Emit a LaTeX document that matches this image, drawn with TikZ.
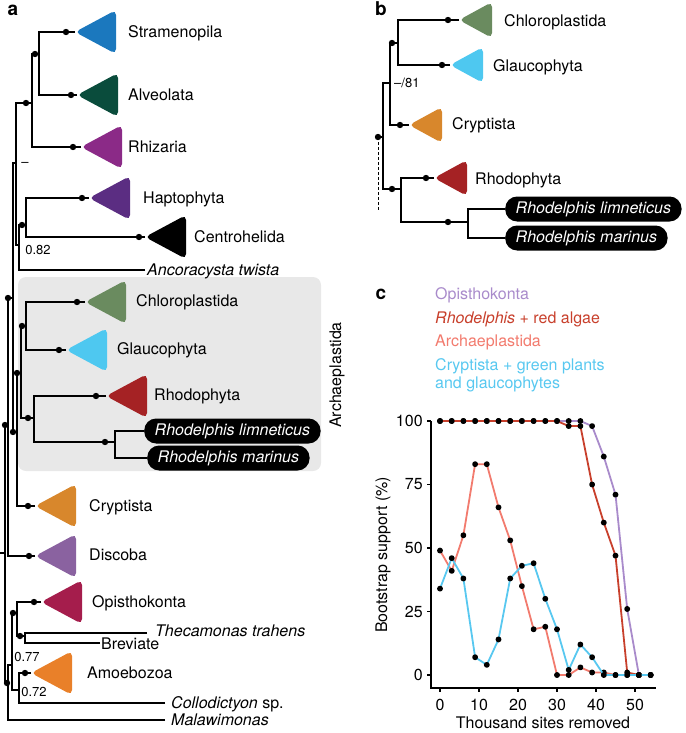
\documentclass[tikz,border=0pt]{standalone}
\usepackage{fontspec}
\setmainfont{TeX Gyre Heros}
\newcommand\labsize{\fontsize{16}{19}\selectfont}
\newcommand\supsize{\fontsize{13}{15}\selectfont}
\definecolor{stramcol}{HTML}{1B78BE}
\definecolor{alvcol}{HTML}{0A4C3C}
\definecolor{rhizcol}{HTML}{8B2A87}
\definecolor{haptcol}{HTML}{5B2D82}
\definecolor{chlcol}{HTML}{6A8B5F}
\definecolor{glacol}{HTML}{4EC8F0}
\definecolor{rhocol}{HTML}{A52224}
\definecolor{crycol}{HTML}{D8872C}
\definecolor{discol}{HTML}{8A62A0}
\definecolor{opicol}{HTML}{A51D4C}
\definecolor{amocol}{HTML}{E98029}
\definecolor{boxgray}{HTML}{E8E8E8}
\definecolor{lnopi}{HTML}{A98BCB}
\definecolor{lnrho}{HTML}{C8402C}
\definecolor{lnarc}{HTML}{F27B6E}
\definecolor{lncry}{HTML}{58C8F0}
\begin{document}
\begin{tikzpicture}[x=1pt,y=-1pt,
  br/.style={line width=1.3pt},
  clade/.style={rounded corners=5pt},
  sdot/.style={fill=black},
  lab/.style={anchor=base west,inner sep=0pt,yshift=-5.7pt,font=\labsize},
  itlab/.style={lab,font=\labsize\itshape},
  sup/.style={anchor=base,inner sep=0pt,yshift=-4.7pt,font=\supsize},
  pill/.style={anchor=west,fill=black,text=white,rounded corners=12pt,minimum height=25pt,inner xsep=10.5pt,inner ysep=0pt,font=\labsize\itshape},
  panel/.style={inner sep=0pt,font=\fontsize{19}{22}\selectfont\bfseries},
  axis/.style={line width=1.2pt},
  ticklab/.style={inner sep=0pt,font=\labsize},
  plotline/.style={line width=1.8pt,line join=round,mark=*,mark size=2pt,mark options={fill=black,draw=black}}]
\useasboundingbox (0,0) rectangle (685,733);

% panel a
\node[panel] (pa) at (13,10) {a};
\fill[boxgray,rounded corners=8pt] (18,277) rectangle (321,471);
\node[font=\labsize,rotate=90,inner sep=0pt] (archL) at (337,375) {Archaeplastida};

% tips
\coordinate (stram) at (75,32);
\coordinate (alveo) at (77,95);
\coordinate (rhiz) at (81,147);
\coordinate (hapto) at (89,198);
\coordinate (centro) at (145,237);
\coordinate (anco) at (145,270);
\coordinate (chloro) at (85,302);
\coordinate (glauco) at (66,350);
\coordinate (rhodo) at (106,396);
\node[pill] (alim) at (144,431) {Rhodelphis limneticus};
\node[pill] (amar) at (147,458) {Rhodelphis marinus};
\coordinate (crypt) at (35,506);
\coordinate (discoba) at (35,556);
\coordinate (opis) at (41,602);
\coordinate (theca) at (147,633);
\coordinate (brev) at (100,643);
\coordinate (amoeb) at (31,673);
\coordinate (collod) at (165,703);
\coordinate (malaw) at (165,720);

% inner nodes
\coordinate (n1) at (39,54);
\coordinate (n2) at (32,103);
\coordinate (n3) at (26,225);
\coordinate (n4) at (19,245);
\coordinate (n5) at (16,163);
\coordinate (n6) at (26,326);
\coordinate (n7) at (115,442);
\coordinate (n8) at (34,418);
\coordinate (n9) at (21,373);
\coordinate (n10) at (17,432);
\coordinate (n11) at (13,298);
\coordinate (n12) at (8,425);
\coordinate (n14) at (17,613);
\coordinate (n15) at (25,636);
\coordinate (n16) at (19,690);
\coordinate (n17) at (12,665);
\coordinate (n19) at (8,683);
\coordinate (rt) at (5,553);
\coordinate (rt0) at (0,553);

\draw[br] (stram) -| (n1);
\draw[br] (alveo) -| (n1);
\draw[br] (n1) -| (n2);
\draw[br] (rhiz) -| (n2);
\draw[br] (hapto) -| (n3);
\draw[br] (centro) -| (n3);
\draw[br] (n3) -| (n4);
\draw[br] (anco) -| (n4);
\draw[br] (n2) -| (n5);
\draw[br] (n4) -| (n5);
\draw[br] (chloro) -| (n6);
\draw[br] (glauco) -| (n6);
\draw[br] (alim) -| (n7);
\draw[br] (amar) -| (n7);
\draw[br] (rhodo) -| (n8);
\draw[br] (n7) -| (n8);
\draw[br] (n6) -| (n9);
\draw[br] (n8) -| (n9);
\draw[br] (n9) -| (n10);
\draw[br] (crypt) -| (n10);
\draw[br] (n5) -| (n11);
\draw[br] (n10) -| (n11);
\draw[br] (n11) -| (n12);
\draw[br] (discoba) -| (n12);
\draw[br] (opis) -| (n14);
\draw[br] (n15) -| (n14);
\draw[br] (theca) -| (n15);
\draw[br] (brev) -| (n15);
\draw[br] (amoeb) -| (n16);
\draw[br] (collod) -| (n16);
\draw[br] (n14) -| (n17);
\draw[br] (n16) -| (n17);
\draw[br] (n17) -| (n19);
\draw[br] (malaw) -| (n19);
\draw[br] (n12) -| (rt);
\draw[br] (n19) -| (rt);
\draw[br] (rt0) -- (rt);

% collapsed clades
\fill[stramcol,clade] (stram) -- ++(41,-22) -- ++(0,44) -- cycle;
\fill[alvcol,clade] (alveo) -- ++(41,-22) -- ++(0,44) -- cycle;
\fill[rhizcol,clade] (rhiz) -- ++(41,-22) -- ++(0,44) -- cycle;
\fill[haptcol,clade] (hapto) -- ++(41,-22) -- ++(0,44) -- cycle;
\fill[black,clade] (centro) -- ++(41,-22) -- ++(0,44) -- cycle;
\fill[chlcol,clade] (chloro) -- ++(41,-22) -- ++(0,44) -- cycle;
\fill[glacol,clade] (glauco) -- ++(41,-22) -- ++(0,44) -- cycle;
\fill[rhocol,clade] (rhodo) -- ++(41,-22) -- ++(0,44) -- cycle;
\fill[crycol,clade] (crypt) -- ++(41,-22) -- ++(0,44) -- cycle;
\fill[discol,clade] (discoba) -- ++(41,-22) -- ++(0,44) -- cycle;
\fill[opicol,clade] (opis) -- ++(41,-22) -- ++(0,44) -- cycle;
\fill[amocol,clade] (amoeb) -- ++(41,-22) -- ++(0,44) -- cycle;

\node[lab] (stramL) at (128,32) {Stramenopila};
\node[lab] (alveoL) at (128,95) {Alveolata};
\node[lab] (rhizL) at (128,147) {Rhizaria};
\node[lab] (haptoL) at (143,198) {Haptophyta};
\node[lab] (centroL) at (194,237) {Centrohelida};
\node[itlab] (ancoL) at (147,270) {Ancoracysta twista};
\node[lab] (chloroL) at (136,301) {Chloroplastida};
\node[lab] (glaucoL) at (117,349) {Glaucophyta};
\node[lab] (rhodoL) at (154,395) {Rhodophyta};
\node[lab] (cryptL) at (89,506) {Cryptista};
\node[lab] (discobaL) at (89,555) {Discoba};
\node[lab] (opisL) at (92,602) {Opisthokonta};
\node[itlab] (thecaL) at (155,631) {Thecamonas trahens};
\node[lab] (brevL) at (101,644) {Breviate};
\node[lab] (amoebL) at (87,673) {Amoebozoa};
\node[lab] (collodL) at (171,703) {\textit{Collodictyon} sp.};
\node[itlab] (malawL) at (171,720) {Malawimonas};

\fill[sdot] (66,32) circle (3.2pt) (71,95) circle (3.2pt) (35,54) circle (3.2pt)
  (73,147) circle (3.2pt) (26,103) circle (3.2pt) (82,198) circle (3.2pt)
  (139,237) circle (3.2pt) (22,225) circle (3.2pt) (77,302) circle (3.2pt)
  (59,350) circle (3.2pt) (22,326) circle (3.2pt) (96,396) circle (3.2pt)
  (105,442) circle (3.2pt) (28,418) circle (3.2pt) (17,373) circle (3.2pt)
  (28,506) circle (3.2pt) (13,432) circle (3.2pt) (8,298) circle (3.2pt)
  (29,556) circle (3.2pt) (5,425) circle (3.2pt) (34,602) circle (3.2pt)
  (20,636) circle (3.2pt) (13,613) circle (3.2pt) (25,673) circle (3.2pt)
  (7,683) circle (3.2pt);

\node[sup] (s1) at (25,162) {--};
\node[sup] (s2) at (38,250) {0.82};
\node[sup] (s3) at (27,657) {0.77};
\node[sup] (s4) at (34,692) {0.72};

% panel b
\node[panel] (pb) at (381,9) {b};
\coordinate (bchl) at (459,20);
\coordinate (bgla) at (450,65);
\coordinate (bcry) at (409,125);
\coordinate (brho) at (434,178);
\node[pill] (blim) at (505,209) {Rhodelphis limneticus};
\node[pill] (bmar) at (505,238) {Rhodelphis marinus};
\coordinate (nb1) at (398,43);
\coordinate (nb2) at (390,83);
\coordinate (nb3) at (468,222);
\coordinate (nb4) at (401,189);
\coordinate (nb5) at (383,137);
\coordinate (rb) at (378,137);
\coordinate (rbend) at (378,210);

\draw[br] (bchl) -| (nb1);
\draw[br] (bgla) -| (nb1);
\draw[br] (nb1) -| (nb2);
\draw[br] (bcry) -| (nb2);
\draw[br] (blim) -| (nb3);
\draw[br] (bmar) -| (nb3);
\draw[br] (brho) -| (nb4);
\draw[br] (nb3) -| (nb4);
\draw[br] (nb2) -| (nb5);
\draw[br] (nb4) -| (nb5);
\draw[br] (nb5) -- (rb);
\draw[line width=1pt,densely dashed] (rb) -- (rbend);

\fill[chlcol,clade] (bchl) -- ++(33,-18) -- ++(0,36) -- cycle;
\fill[glacol,clade] (bgla) -- ++(33,-18) -- ++(0,36) -- cycle;
\fill[crycol,clade] (bcry) -- ++(33,-18) -- ++(0,36) -- cycle;
\fill[rhocol,clade] (brho) -- ++(33,-18) -- ++(0,36) -- cycle;

\node[lab] (bchlL) at (504,21) {Chloroplastida};
\node[lab] (bglaL) at (493,66) {Glaucophyta};
\node[lab] (bcryL) at (452,124) {Cryptista};
\node[lab] (brhoL) at (475,179) {Rhodophyta};

\fill[sdot] (448,20) circle (3.2pt) (442,65) circle (3.2pt) (392,43) circle (3.2pt)
  (400,125) circle (3.2pt) (426,178) circle (3.2pt) (448,222) circle (3.2pt)
  (392,189) circle (3.2pt) (378,137) circle (3.2pt);
\node[sup,anchor=base west] (s5) at (394,83) {--/81};

% panel c
\node[panel] (pc) at (381,294) {c};
\node[lab,text=lnopi] (lg1) at (435,294) {Opisthokonta};
\node[lab,text=lnrho] (lg2) at (435,318) {\textit{Rhodelphis} + red algae};
\node[lab,text=lnarc] (lg3) at (435,341) {Archaeplastida};
\node[lab,text=lncry] (lg4) at (435,365) {Cryptista + green plants};
\node[lab,text=lncry] (lg5) at (435,383) {and glaucophytes};

\begin{scope}[shift={(440,675)},x=3.9pt,y=2.54pt]
\draw[axis] (-2.3,100) -- (-2.3,-5.1) -- (55.4,-5.1);
\draw[axis] (-2.3,0) -- (-3.3,0) (-2.3,25) -- (-3.3,25) (-2.3,50) -- (-3.3,50)
  (-2.3,75) -- (-3.3,75) (-2.3,100) -- (-3.3,100);
\draw[axis] (0,-5.1) -- (0,-6.7) (10,-5.1) -- (10,-6.7) (20,-5.1) -- (20,-6.7)
  (30,-5.1) -- (30,-6.7) (40,-5.1) -- (40,-6.7) (50,-5.1) -- (50,-6.7);
\node[ticklab,anchor=east] (y0) at (-4.4,0) {0};
\node[ticklab,anchor=east] (y25) at (-4.4,25) {25};
\node[ticklab,anchor=east] (y50) at (-4.4,50) {50};
\node[ticklab,anchor=east] (y75) at (-4.4,75) {75};
\node[ticklab,anchor=east] (y100) at (-4.4,100) {100};
\node[ticklab] (x0) at (0,-11.8) {0};
\node[ticklab] (x10) at (10,-11.8) {10};
\node[ticklab] (x20) at (20,-11.8) {20};
\node[ticklab] (x30) at (30,-11.8) {30};
\node[ticklab] (x40) at (40,-11.8) {40};
\node[ticklab] (x50) at (50,-11.8) {50};
\draw[plotline,lnopi] plot coordinates {(0,100) (3,100) (6,100) (9,100) (12,100)
  (15,100) (18,100) (21,100) (24,100) (27,100) (30,100) (33,100) (36,100) (39,98)
  (42,86) (45,71) (48,26) (51,0) (54,0)};
\draw[plotline,lnrho] plot coordinates {(0,100) (3,100) (6,100) (9,100) (12,100)
  (15,100) (18,100) (21,100) (24,100) (27,100) (30,100) (33,98) (36,98) (39,75)
  (42,60) (45,47) (48,1) (51,0) (54,0)};
\draw[plotline,lnarc] plot coordinates {(0,49) (3,41) (6,55) (9,83) (12,83) (15,66)
  (18,53) (21,35) (24,18) (27,19) (30,0) (33,0) (36,3) (39,1) (42,1) (45,0) (48,0)
  (51,0) (54,0)};
\draw[plotline,lncry] plot coordinates {(0,34) (3,46) (6,38) (9,7) (12,4) (15,14)
  (18,38) (21,43) (24,44) (27,30) (30,18) (33,2) (36,12) (39,7) (42,0) (45,0) (48,0)
  (51,0) (54,0)};
\end{scope}
\node[font=\labsize] (xt) at (543,723) {Thousand sites removed};
\node[font=\labsize,rotate=90] (yt) at (383,555) {Bootstrap support (\%)};
\end{tikzpicture}
\end{document}
